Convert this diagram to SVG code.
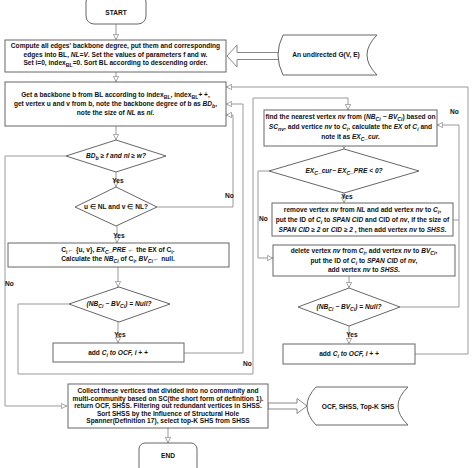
<svg xmlns="http://www.w3.org/2000/svg" width="474" height="468" viewBox="0 0 474 468">
<style>
.box{fill:#fff;stroke:#666;stroke-width:1}
.ln{fill:none;stroke:#999;stroke-width:1}
text{font-family:"Liberation Sans",Arial,sans-serif;font-size:6.6px;font-weight:bold;fill:#111;text-anchor:middle}
.lb{text-anchor:start}
.i{font-style:italic}
.s{font-size:5.2px}
</style>
<defs>
<marker id="ah" markerUnits="userSpaceOnUse" markerWidth="6" markerHeight="6" viewBox="0 0 8 8" refX="8" refY="4" orient="auto">
<path d="M0.5,0.5 L7.5,4 L0.5,7.5 Z" fill="#fff" stroke="#888" stroke-width="1"/>
</marker>
</defs>
<g id="connectors">
<path class="ln" d="M116,24 V40" marker-end="url(#ah)"/>
<path class="ln" d="M116,72 V82" marker-end="url(#ah)"/>
<path class="ln" d="M116,126 V140" marker-end="url(#ah)"/>
<path class="ln" d="M116,172 V187" marker-end="url(#ah)"/>
<path class="ln" d="M117,226 V243" marker-end="url(#ah)"/>
<path class="ln" d="M118,267 V287" marker-end="url(#ah)"/>
<path class="ln" d="M118,322 V343" marker-end="url(#ah)"/>
<path class="ln" d="M184,353 H243 V104 H226" marker-end="url(#ah)"/>
<path class="ln" d="M157,207 H233 V115 H226" marker-end="url(#ah)"/>
<path class="ln" d="M66,156 H5 V406 H67" marker-end="url(#ah)"/>
<path class="ln" d="M69,304 H18 V374 H253 V98 H348 V110" marker-end="url(#ah)"/>
<path class="ln" d="M344,146 V149" marker-end="url(#ah)"/>
<path class="ln" d="M344,193 V203" marker-end="url(#ah)"/>
<path class="ln" d="M269,171 H258 V258 H273" marker-end="url(#ah)"/>
<path class="ln" d="M453,220 H459"/>
<path class="ln" d="M400,307 H459 V125 H437" marker-end="url(#ah)"/>
<path class="ln" d="M349,276 V288" marker-end="url(#ah)"/>
<path class="ln" d="M349,326 V344" marker-end="url(#ah)"/>
<path class="ln" d="M415,354 H468 V87 H226" marker-end="url(#ah)"/>
<path class="ln" d="M168,428 V443" marker-end="url(#ah)"/>
<path d="M227,56 L237,45 V52.5 H279 V59.5 H237 V67 Z" fill="#fff" stroke="#888" stroke-width="1"/>
<path d="M307,406 L297,398.5 V403 H268 V409 H297 V413.5 Z" fill="#fff" stroke="#888" stroke-width="1"/>
<text x="118" y="183">Yes</text>
<text x="119" y="238">Yes</text>
<text x="120" y="337">Yes</text>
<text x="347" y="199">Yes</text>
<text x="352" y="337">Yes</text>
<text class="lb" x="5" y="286">No</text>
<text class="lb" x="225" y="198">No</text>
<text class="lb" x="243" y="366">No</text>
<text class="lb" x="259" y="221">No</text>
<text class="lb" x="450" y="114">No</text>
</g>
<g id="start">
<rect class="box" x="86" y="-6" width="60" height="30" rx="8"/>
<text x="116" y="15">START</text>
</g>
<g id="box1">
<rect class="box" x="5" y="40" width="221" height="32"/>
<text x="115.5" y="48">Compute all edges' backbone degree, put them and corresponding</text>
<text x="115.5" y="56.5">edges into BL, <tspan class="i">NL=V</tspan>. Set the values of parameters f and w.</text>
<text x="115.5" y="65">Set i=0, index<tspan class="s" dy="1.5">BL</tspan><tspan dy="-1.5">=0. Sort BL according to descending order.</tspan></text>
</g>
<g id="input">
<path class="box" d="M283,35 L377,35 Q357,55 377,75 L283,75 Q273,55 283,35 Z"/>
<text x="326" y="57">An undirected G(V, E)</text>
</g>
<g id="box2">
<rect class="box" x="5" y="82" width="221" height="44"/>
<text x="115.5" y="97">Get a backbone b from BL according to index<tspan class="s" dy="1.5">BL</tspan><tspan dy="-1.5">, index</tspan><tspan class="s" dy="1.5">BL</tspan><tspan dy="-1.5">+ +,</tspan></text>
<text x="115.5" y="106">get vertex u and v from b, note the backbone degree of b as <tspan class="i">BD</tspan><tspan class="s i" dy="1.5">b</tspan><tspan dy="-1.5">,</tspan></text>
<text x="115.5" y="115">note the size of <tspan class="i">NL</tspan> as <tspan class="i">nl</tspan>.</text>
</g>
<g id="d1">
<path class="box" d="M116,140 L166,156 L116,172 L66,156 Z"/>
<text class="i" x="116" y="158">BD<tspan class="s" dy="1.5">b</tspan><tspan dy="-1.5"> ≥ f and  nl  ≥ w?</tspan></text>
</g>
<g id="d2">
<path class="box" d="M116,187 L157,207 L116,226 L75,207 Z"/>
<text x="116" y="209">u ∈ NL and v ∈ NL?</text>
</g>
<g id="box3">
<rect class="box" x="8" y="243" width="221" height="24"/>
<text x="118" y="252">C<tspan class="s" dy="1.5">i</tspan><tspan dy="-1.5">← {u, v},  </tspan><tspan class="i">EX</tspan><tspan class="s i" dy="1.5">C</tspan><tspan class="i" dy="-1.5">_PRE</tspan>  ← the EX of C<tspan class="s" dy="1.5">i</tspan><tspan dy="-1.5">.</tspan></text>
<text x="118" y="261">Calculate the <tspan class="i">NB</tspan><tspan class="s i" dy="1.5">Ci</tspan><tspan dy="-1.5"> of C</tspan><tspan class="s" dy="1.5">i</tspan><tspan dy="-1.5">, </tspan><tspan class="i">BV</tspan><tspan class="s i" dy="1.5">Ci</tspan><tspan dy="-1.5">← null.</tspan></text>
</g>
<g id="d3">
<path class="box" d="M119,287 L170,304 L119,322 L69,304 Z"/>
<text class="i" x="119" y="306">(NB<tspan class="s" dy="1.5">Ci</tspan><tspan dy="-1.5"> − BV</tspan><tspan class="s" dy="1.5">Ci</tspan><tspan dy="-1.5">) = Null?</tspan></text>
</g>
<g id="addL">
<rect class="box" x="53" y="343" width="131" height="19"/>
<text x="118" y="355">add <tspan class="i">C</tspan><tspan class="s i" dy="1.5">i</tspan><tspan class="i" dy="-1.5"> to OCF, i + +</tspan></text>
</g>
<g id="find">
<rect class="box" x="264" y="110" width="173" height="36"/>
<text x="350.5" y="119">find the nearest vertex <tspan class="i">nv</tspan> from (<tspan class="i">NB</tspan><tspan class="s i" dy="1.5">Ci</tspan><tspan class="i" dy="-1.5"> − BV</tspan><tspan class="s i" dy="1.5">Ci</tspan><tspan dy="-1.5">) based on</tspan></text>
<text x="350.5" y="129"><tspan class="i">SC</tspan><tspan class="s i" dy="1.5">nv</tspan><tspan dy="-1.5">, add vertice </tspan><tspan class="i">nv</tspan> to <tspan class="i">C</tspan><tspan class="s i" dy="1.5">i</tspan><tspan dy="-1.5">, calculate the </tspan><tspan class="i">EX</tspan> of <tspan class="i">C</tspan><tspan class="s i" dy="1.5">i</tspan><tspan dy="-1.5"> and</tspan></text>
<text x="350.5" y="139">note it as <tspan class="i">EX</tspan><tspan class="s i" dy="1.5">C</tspan><tspan class="i" dy="-1.5">_cur.</tspan></text>
</g>
<g id="d4">
<path class="box" d="M344,149 L419,171 L344,193 L269,171 Z"/>
<text class="i" x="344" y="173">EX<tspan class="s" dy="1.5">C</tspan><tspan dy="-1.5">_cur− EX</tspan><tspan class="s" dy="1.5">C</tspan><tspan dy="-1.5">_PRE &lt; 0?</tspan></text>
</g>
<g id="remove">
<rect class="box" x="272" y="203" width="181" height="33"/>
<text x="362.5" y="212">remove vertex <tspan class="i">nv</tspan> from <tspan class="i">NL</tspan> and add vertex <tspan class="i">nv</tspan> to <tspan class="i">C</tspan><tspan class="s i" dy="1.5">i</tspan><tspan dy="-1.5">,</tspan></text>
<text x="362.5" y="222">put the ID of <tspan class="i">C</tspan><tspan class="s i" dy="1.5">i</tspan><tspan dy="-1.5"> to </tspan><tspan class="i">SPAN CID</tspan> and CID of <tspan class="i">nv</tspan>, if the size of</text>
<text x="362.5" y="232"><tspan class="i">SPAN CID ≥ 2</tspan> or <tspan class="i">CID ≥ 2</tspan> , then add vertex <tspan class="i">nv</tspan> to <tspan class="i">SHSS.</tspan></text>
</g>
<g id="delete">
<rect class="box" x="273" y="245" width="182" height="31"/>
<text x="364" y="253">delete vertex <tspan class="i">nv</tspan> from <tspan class="i">C</tspan><tspan class="s i" dy="1.5">i</tspan><tspan dy="-1.5">, add vertex </tspan><tspan class="i">nv</tspan> to <tspan class="i">BV</tspan><tspan class="s i" dy="1.5">Ci</tspan><tspan dy="-1.5">,</tspan></text>
<text x="364" y="263">put the ID of <tspan class="i">C</tspan><tspan class="s i" dy="1.5">i</tspan><tspan dy="-1.5"> to </tspan><tspan class="i">SPAN CID</tspan> of <tspan class="i">nv</tspan>,</text>
<text x="364" y="272">add vertex <tspan class="i">nv</tspan> to <tspan class="i">SHSS.</tspan></text>
</g>
<g id="d6">
<path class="box" d="M349,288 L400,307 L349,326 L298,307 Z"/>
<text class="i" x="349" y="309">(NB<tspan class="s" dy="1.5">Ci</tspan><tspan dy="-1.5"> − BV</tspan><tspan class="s" dy="1.5">Ci</tspan><tspan dy="-1.5">) = Null?</tspan></text>
</g>
<g id="addR">
<rect class="box" x="283" y="344" width="132" height="20"/>
<text x="349" y="356">add <tspan class="i">C</tspan><tspan class="s i" dy="1.5">i</tspan><tspan class="i" dy="-1.5"> to OCF, i + +</tspan></text>
</g>
<g id="collect">
<rect class="box" x="68" y="384" width="200" height="44"/>
<text x="168" y="393">Collect these vertices that divided into no community and</text>
<text x="168" y="400.5">multi-community based on SC(the short form of definition 1).</text>
<text x="168" y="408">return OCF, SHSS. Filtering out redundant vertices in SHSS.</text>
<text x="168" y="415.5">Sort SHSS by the Influence of Structural Hole</text>
<text x="168" y="423">Spanner(Definition 17), select top-K SHS from SHSS</text>
</g>
<g id="output">
<path class="box" d="M316,387 L408,387 Q388,406 408,425 L316,425 Q298,406 316,387 Z"/>
<text x="358" y="409">OCF, SHSS, Top-K SHS</text>
</g>
<g id="end">
<rect class="box" x="139" y="443" width="58" height="32" rx="6"/>
<text x="168" y="458">END</text>
</g>
</svg>
